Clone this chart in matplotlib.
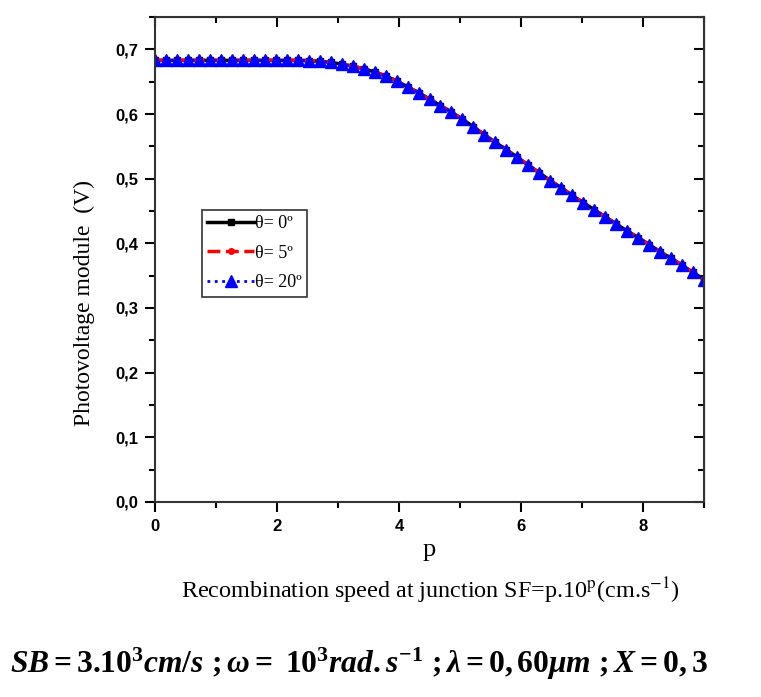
import matplotlib
matplotlib.use("Agg")
import matplotlib.pyplot as plt
from matplotlib.ticker import MultipleLocator, FuncFormatter

# data (p = exponent of junction recombination speed)
p = [0.00, 0.18, 0.36, 0.54, 0.72, 0.90, 1.08, 1.26, 1.44, 1.62, 1.80, 1.98, 2.16, 2.34,
     2.52, 2.70, 2.88, 3.06, 3.24, 3.42, 3.60, 3.78, 3.96, 4.14, 4.32, 4.50, 4.68, 4.86,
     5.04, 5.22, 5.40, 5.58, 5.76, 5.94, 6.12, 6.30, 6.48, 6.66, 6.84, 7.02, 7.20, 7.38,
     7.56, 7.74, 7.92, 8.10, 8.28, 8.46, 8.64, 8.82, 9.00]
v_theta0 = [0.683, 0.683, 0.683, 0.683, 0.683, 0.683, 0.683, 0.683, 0.683, 0.683, 0.683, 0.683, 0.683, 0.683,
            0.6825, 0.6815, 0.680, 0.677, 0.674, 0.670, 0.665, 0.659, 0.651, 0.642, 0.633, 0.623, 0.613, 0.603,
            0.592, 0.580, 0.568, 0.556, 0.545, 0.533, 0.521, 0.509, 0.497, 0.486, 0.474, 0.463, 0.452, 0.441,
            0.430, 0.419, 0.409, 0.398, 0.387, 0.377, 0.366, 0.355, 0.344]
v_theta5 = list(v_theta0)
v_theta20 = list(v_theta0)
labels = ['θ= 0º', 'θ= 5º', 'θ= 20º']

plt.rcParams['mathtext.fontset'] = 'custom'
plt.rcParams['mathtext.rm'] = 'Liberation Serif:bold'
plt.rcParams['mathtext.it'] = 'Liberation Serif:bold:italic'
plt.rcParams['mathtext.bf'] = 'Liberation Serif:bold'

fig = plt.figure(figsize=(7.61, 6.97), dpi=100)
ax = fig.add_axes([0.2037, 0.2798, 0.7214, 0.6958])

ax.plot(p, v_theta0, color='black', lw=2.5, ls='-', marker='s', ms=4, label=labels[0])
ax.plot(p, v_theta5, color='red', lw=2.5, ls='--', marker='o', ms=4, label=labels[1])
ax.plot(p, v_theta20, color='blue', lw=2.0, ls=':', marker='^', ms=8, label=labels[2])

ax.set_xlim(0, 9)
ax.set_ylim(0, 0.75)
ax.xaxis.set_major_locator(MultipleLocator(2))
ax.xaxis.set_minor_locator(MultipleLocator(1))
ax.yaxis.set_major_locator(MultipleLocator(0.1))
ax.yaxis.set_minor_locator(MultipleLocator(0.05))
ax.yaxis.set_major_formatter(FuncFormatter(lambda y, pos: ("%.1f" % y).replace('.', ',')))

ax.tick_params(which='both', direction='out', width=1.5, top=False, right=False)
ax.tick_params(which='major', length=7)
ax.tick_params(which='minor', length=4)
ax.tick_params(axis='x', pad=5)
ax.tick_params(axis='y', pad=5)
for lab in ax.get_xticklabels() + ax.get_yticklabels():
    lab.set_family(['Liberation Sans Narrow', 'Liberation Sans'])
    lab.set_fontweight('bold')
    lab.set_fontsize(12)

# mirrored inward ticks on top and right
sec_x = ax.secondary_xaxis('top')
sec_x.xaxis.set_major_locator(MultipleLocator(2))
sec_x.xaxis.set_minor_locator(MultipleLocator(1))
sec_x.tick_params(which='both', direction='in', width=1.5, labeltop=False)
sec_x.tick_params(which='major', length=7)
sec_x.tick_params(which='minor', length=4)
sec_y = ax.secondary_yaxis('right')
sec_y.yaxis.set_major_locator(MultipleLocator(0.1))
sec_y.yaxis.set_minor_locator(MultipleLocator(0.05))
sec_y.tick_params(which='both', direction='in', width=1.5, labelright=False)
sec_y.tick_params(which='major', length=7)
sec_y.tick_params(which='minor', length=4)

for s in ax.spines.values():
    s.set_linewidth(1.5)
    s.set_color('#333333')

ax.set_ylabel('Photovoltage module  (V)', family='Liberation Serif', fontsize=17)
ax.yaxis.set_label_coords(-0.109, 0.41)
ax.set_xlabel('p', family='Liberation Serif', fontsize=19, labelpad=4)

fig.text(0.566, 0.142, r'Recombination speed at junction SF=p.10$^{\mathrm{p}}$(cm.s$^{-1}$)',
         family='Liberation Serif', fontsize=17.4, ha='center', math_fontfamily='stix')

leg = ax.legend(loc='upper left', bbox_to_anchor=(0.085, 0.603), frameon=True, fancybox=False,
                prop={'family': 'Liberation Serif', 'size': 13}, handlelength=2.6,
                handletextpad=0.05, borderpad=0.3, labelspacing=0.7, borderaxespad=0)
leg.get_frame().set_edgecolor('black')
leg.get_frame().set_linewidth(1.2)

fig.text(0.013, 0.035, r'$SB = 3.10^{3}cm/s\ ;\omega =\ 10^{3}rad.s^{-1}\ ;\lambda = 0,60\mu m\ ;X = 0,3$',
         fontsize=22.7, ha='left')

fig.savefig('out.png', dpi=100)
